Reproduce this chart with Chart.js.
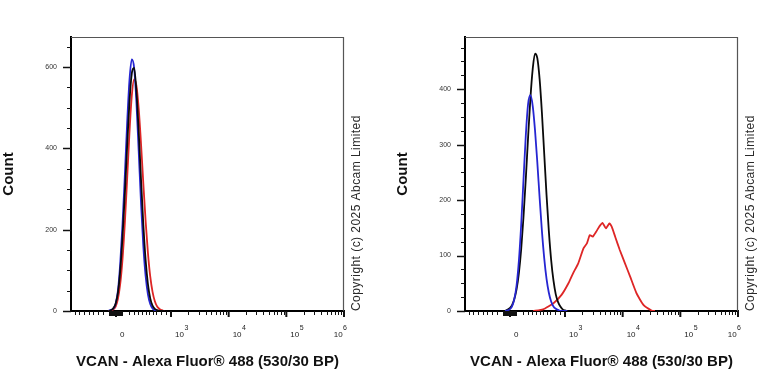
<!DOCTYPE html>
<html>
<head>
<meta charset="utf-8">
<script src="https://cdn.jsdelivr.net/npm/chart.js@4.4.1/dist/chart.umd.min.js"></script>
<style>
  html, body { margin: 0; padding: 0; background: #fff; }
  #wrap { position: relative; width: 768px; height: 384px; overflow: hidden; }
  canvas { position: absolute; top: 0; }
</style>
</head>
<body>
<div id="wrap">
  <canvas id="chartLeft" width="374" height="384" style="left:0px"></canvas>
  <canvas id="chartRight" width="374" height="384" style="left:394px"></canvas>
</div>
<script>
//** X VALUES ARE IN DISPLAY UNITS OF THE BIEXPONENTIAL AXIS (10^3 = 3, 10^4 = 4 ...) */
const xMin = 1.266;
const xMax = 6.0;
const xZero = 2.046;

//** LEFT PANEL */
const leftBins = [1.92, 1.96, 2.00, 2.04, 2.08, 2.12, 2.16, 2.20, 2.24, 2.28, 2.32, 2.36, 2.40,
  2.44, 2.48, 2.52, 2.56, 2.60, 2.64, 2.68, 2.72, 2.76, 2.80, 2.84, 2.88];
const leftBlack = [0, 2, 7, 18, 45, 100, 184, 289, 407, 515, 584, 598, 541,
  442, 324, 213, 125, 66, 31, 13, 5, 2, 0, 0, 0];
const leftBlue = [1, 3, 6, 18, 50, 118, 215, 335, 463, 568, 619, 599, 515,
  393, 266, 160, 86, 41, 17, 6, 2, 0, 0, 0, 0];
const leftRed = [0, 1, 4, 11, 30, 67, 129, 217, 326, 439, 529, 570, 555,
  498, 412, 314, 221, 143, 85, 47, 24, 11, 5, 2, 0];

//** RIGHT PANEL */
const rightBins = [1.96, 2.00, 2.04, 2.08, 2.12, 2.16, 2.20, 2.24, 2.28, 2.32, 2.36, 2.40, 2.44,
  2.48, 2.52, 2.56, 2.60, 2.64, 2.68, 2.72, 2.76, 2.80, 2.84, 2.88, 2.92, 2.96, 3.00, 3.04];
const rightBlack = [0, 2, 5, 10, 21, 39, 68, 111, 169, 238, 313, 383, 436,
  464, 456, 418, 357, 283, 209, 144, 92, 55, 30, 16, 8, 3, 1, 0];
const rightBlue = [0, 1, 3, 8, 21, 46, 90, 155, 236, 316, 373, 389, 370,
  326, 268, 204, 144, 95, 58, 33, 17, 8, 4, 2, 0, 0, 0, 0];
const rightRedBins = [2.45, 2.62, 2.80, 2.94, 3.06, 3.14, 3.23, 3.32, 3.38, 3.43, 3.48, 3.54, 3.60,
  3.65, 3.71, 3.77, 3.81, 3.87, 3.95, 4.04, 4.13, 4.24, 4.36, 4.50, 4.56];
const rightRed = [0, 3, 14, 29, 50, 68, 86, 113, 122, 137, 134, 143, 153,
  159, 149, 158, 152, 134, 110, 86, 62, 32, 11, 1, 0];

//** AXIS TICKS */
const leftYMajor = [0, 200, 400, 600];
const leftYMinor = [50, 100, 150, 250, 300, 350, 450, 500, 550, 650];
const rightYMajor = [0, 100, 200, 300, 400];
const rightYMinor = [25, 50, 75, 125, 150, 175, 225, 250, 275, 325, 350, 375, 425, 450, 475];
const xMajor = [xZero, 3, 4, 5, 6];
const xLabelBase = ['0', '10', '10', '10', '10'];
const xLabelExp = ['', '3', '4', '5', '6'];
const xNearZero = [1.942, 1.977, 2.012, 2.081, 2.116, 2.150];
const xMinorLow = [1.335, 1.405, 1.491, 1.578, 1.647, 1.734, 1.821,
  2.277, 2.353, 2.428, 2.497, 2.566, 2.624, 2.683, 2.740, 2.827, 2.913];

const xTitle = 'VCAN - Alexa Fluor® 488 (530/30 BP)';
const noteText = 'Copyright (c) 2025 Abcam Limited';
const fontFamily = '"Liberation Sans", Arial, sans-serif';

const BLACK = 'rgb(10,10,10)';
const BLUE = 'rgb(38,38,210)';
const RED = 'rgb(222,38,38)';

//** DRAWS FRAME, TICK MARKS, X LABELS AND THE COPYRIGHT NOTE */
const flowAxes = {
  id: 'flowAxes',
  afterDraw(chart, args, opts) {
    const ctx = chart.ctx;
    const { left, right, top, bottom } = chart.chartArea;
    const xs = chart.scales.x;
    const ys = chart.scales.y;

    function tick(x1, y1, x2, y2, w) {
      ctx.lineWidth = w;
      ctx.beginPath();
      ctx.moveTo(x1, y1);
      ctx.lineTo(x2, y2);
      ctx.stroke();
    }

    ctx.save();
    ctx.strokeStyle = '#555';
    ctx.lineWidth = 1.2;
    ctx.beginPath();
    ctx.moveTo(left, top + 0.5);
    ctx.lineTo(right - 0.5, top + 0.5);
    ctx.lineTo(right - 0.5, bottom);
    ctx.stroke();

    ctx.strokeStyle = '#111';
    opts.yMinor.forEach(v => {
      const y = Math.round(ys.getPixelForValue(v)) + 0.5;
      tick(left - 4, y, left, y, 1);
    });
    opts.yMajor.forEach(v => {
      const y = Math.round(ys.getPixelForValue(v)) + 0.5;
      tick(left - 8, y, left, y, 1.5);
    });

    const xMinorLog = [];
    [3, 4, 5].forEach(d => {
      for (let k = 2; k <= 9; k++) xMinorLog.push(d + Math.log10(k));
    });
    xMinorLow.concat(xMinorLog).forEach(v => {
      const x = Math.round(xs.getPixelForValue(v)) + 0.5;
      tick(x, bottom, x, bottom + 4, 1);
    });
    xNearZero.forEach(v => {
      const x = xs.getPixelForValue(v);
      tick(x, bottom, x, bottom + 5, 2);
    });
    xMajor.forEach(v => {
      const x = xs.getPixelForValue(v);
      tick(x, bottom, x, bottom + 6, 2);
    });

    //** X LABELS WITH SUPERSCRIPT EXPONENT */
    ctx.fillStyle = '#222';
    ctx.textBaseline = 'alphabetic';
    ctx.textAlign = 'left';
    xMajor.forEach((v, i) => {
      ctx.font = '8px ' + fontFamily;
      const wBase = ctx.measureText(xLabelBase[i]).width;
      ctx.font = '7px ' + fontFamily;
      const wExp = ctx.measureText(xLabelExp[i]).width;
      let x0 = xs.getPixelForValue(v) + 4;
      if (x0 + wBase + wExp + 0.5 > right + 3) x0 = right + 3 - wBase - wExp - 0.5;
      ctx.font = '8px ' + fontFamily;
      ctx.fillText(xLabelBase[i], x0, 336.5);
      ctx.font = '7px ' + fontFamily;
      ctx.fillText(xLabelExp[i], x0 + wBase + 0.5, 329.5);
    });

    //** COPYRIGHT NOTE */
    ctx.translate(opts.noteX, bottom);
    ctx.rotate(-Math.PI / 2);
    ctx.fillStyle = '#2a2a2a';
    ctx.font = '12px ' + fontFamily;
    ctx.letterSpacing = '0.45px';
    ctx.textAlign = 'left';
    ctx.textBaseline = 'middle';
    ctx.fillText(noteText, 0, 0);
    ctx.restore();
  }
};

function makeSeries(bins, counts, color) {
  return {
    data: bins.map((b, i) => ({ x: b, y: counts[i] })),
    borderColor: color,
    borderWidth: 1.8,
    pointRadius: 0,
    fill: false,
    cubicInterpolationMode: 'monotone',
  };
}

function makeConfig(datasets, yMax, yMajor, yMinor) {
  return {
    type: 'line',
    data: { datasets: datasets },
    options: {
      responsive: false,
      animation: false,
      events: [],
      layout: { padding: { left: 0, right: 30, top: 37, bottom: 0 } },
      plugins: {
        legend: { display: false },
        tooltip: { enabled: false },
        flowAxes: { yMajor: yMajor, yMinor: yMinor, noteX: 357 },
      },
      scales: {
        x: {
          type: 'linear',
          min: xMin,
          max: xMax,
          ticks: { display: false },
          grid: { display: false, drawTicks: false },
          border: { display: true, color: '#000', width: 2 },
          title: {
            display: true,
            text: xTitle,
            color: '#111',
            font: { family: fontFamily, size: 15, weight: 'bold' },
            padding: { top: 0, bottom: 13 },
          },
          afterFit: s => { s.height = 73; },
        },
        y: {
          type: 'linear',
          min: 0,
          max: yMax,
          afterBuildTicks: s => { s.ticks = yMajor.map(v => ({ value: v })); },
          ticks: {
            color: '#333',
            padding: 14,
            font: { family: fontFamily, size: 7 },
          },
          grid: { display: false, drawTicks: false },
          border: { display: true, color: '#000', width: 2 },
          title: {
            display: true,
            text: 'Count',
            color: '#111',
            font: { family: fontFamily, size: 15, weight: 'bold' },
            padding: { top: 0, bottom: 0 },
          },
          afterFit: s => { s.width = 71; },
        },
      },
    },
    plugins: [flowAxes],
  };
}

const chartLeft = new Chart(document.getElementById('chartLeft'), makeConfig([
  makeSeries(leftBins, leftBlack, BLACK),
  makeSeries(leftBins, leftBlue, BLUE),
  makeSeries(leftBins, leftRed, RED),
], 674, leftYMajor, leftYMinor));

const chartRight = new Chart(document.getElementById('chartRight'), makeConfig([
  makeSeries(rightBins, rightBlue, BLUE),
  makeSeries(rightBins, rightBlack, BLACK),
  Object.assign(makeSeries(rightRedBins, rightRed, RED), { cubicInterpolationMode: 'default', tension: 0.15 }),
], 494, rightYMajor, rightYMinor));
</script>
</body>
</html>
